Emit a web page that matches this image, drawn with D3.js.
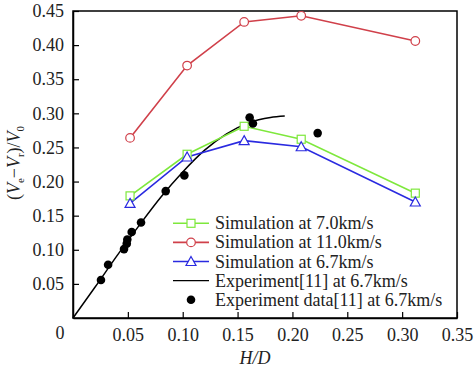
<!DOCTYPE html>
<html><head><meta charset="utf-8">
<script src="https://cdn.jsdelivr.net/npm/d3@7"></script>
<style>body{margin:0;background:#fff}svg{display:block}text{font-family:"Liberation Serif","Times New Roman",serif}</style>
</head><body><svg id="c" width="474" height="367"></svg>
<script>
const simX = [0.052, 0.104, 0.156, 0.208, 0.312];
const sim70 = [0.179, 0.240, 0.281, 0.262, 0.183];
const sim110 = [0.264, 0.370, 0.434, 0.443, 0.406];
const sim67 = [0.168, 0.236, 0.260, 0.251, 0.170];
const expCurveX = [0, 0.02, 0.04, 0.06, 0.08, 0.10, 0.12, 0.14, 0.16, 0.18, 0.193];
const expCurveY = [0, 0.045, 0.091, 0.135, 0.177, 0.214, 0.246, 0.270, 0.286, 0.294, 0.296];
const dataX = [0.0255, 0.032, 0.0465, 0.049, 0.0495, 0.0535, 0.062, 0.0845, 0.1015, 0.161, 0.164, 0.223];
const dataY = [0.0557, 0.078, 0.101, 0.109, 0.115, 0.126, 0.140, 0.186, 0.209, 0.294, 0.285, 0.271];
const xTicks = [0.05, 0.10, 0.15, 0.20, 0.25, 0.30, 0.35];
const yTicks = [0.05, 0.10, 0.15, 0.20, 0.25, 0.30, 0.35, 0.40, 0.45];
const legendLabels = ["Simulation at 7.0km/s", "Simulation at 11.0km/s", "Simulation at 6.7km/s", "Experiment[11] at 6.7km/s", "Experiment data[11] at 6.7km/s"];
const colors = {g: "#7ee83c", r: "#d0404a", b: "#2a2ae0", k: "#000"};

const svg = d3.select("#c");
const L = 73, R = 457, T = 11, B = 318;
const x = d3.scaleLinear().domain([0, 0.35]).range([L, R]);
const y = d3.scaleLinear().domain([0, 0.45]).range([B, T]);

svg.append("rect").attr("x", L).attr("y", T).attr("width", R - L).attr("height", B - T)
  .attr("fill", "none").attr("stroke", "#000").attr("stroke-width", 1.5);

const xa = svg.append("g").attr("transform", `translate(0,${B})`)
  .call(d3.axisBottom(x).tickValues(xTicks).tickSizeInner(-6).tickSizeOuter(0).tickPadding(10).tickFormat(d3.format(".2f")));
const ya = svg.append("g").attr("transform", `translate(${L},0)`)
  .call(d3.axisLeft(y).tickValues(yTicks).tickSizeInner(-6).tickSizeOuter(0).tickPadding(9).tickFormat(d3.format(".2f")));
[xa, ya].forEach(a => {
  a.select(".domain").attr("stroke", "#000").attr("stroke-width", 1.5);
  a.selectAll(".tick line").attr("stroke", "#000").attr("stroke-width", 1.2);
  a.selectAll(".tick text").attr("font-size", 18).attr("fill", "#222").style("font-family", '"Liberation Serif",serif');
});
svg.append("text").attr("x", 60).attr("y", 339).attr("text-anchor", "middle").attr("font-size", 18).attr("fill", "#222").text("0");

svg.append("text").attr("x", 255).attr("y", 364).attr("text-anchor", "middle").attr("font-size", 18)
  .attr("font-style", "italic").attr("fill", "#222").text("H/D");
const yt = svg.append("text").attr("transform", "translate(20,163) rotate(-90)").attr("text-anchor", "middle")
  .attr("font-size", 18).attr("fill", "#222");
yt.append("tspan").text("(");
yt.append("tspan").attr("font-style", "italic").text("V");
yt.append("tspan").attr("font-size", 11).attr("dy", 4).text("e");
yt.append("tspan").attr("dy", -4).text("−");
yt.append("tspan").attr("font-style", "italic").text("V");
yt.append("tspan").attr("font-size", 11).attr("dy", 4).text("r");
yt.append("tspan").attr("dy", -4).text(")/");
yt.append("tspan").attr("font-style", "italic").text("V");
yt.append("tspan").attr("font-size", 11).attr("dy", 4).text("0");

const curvePts = expCurveX.map((d, i) => [d, expCurveY[i]]);
svg.append("path").datum(curvePts).attr("fill", "none").attr("stroke", "#000").attr("stroke-width", 1.5)
  .attr("d", d3.line().x(d => x(d[0])).y(d => y(d[1])).curve(d3.curveMonotoneX));

const series = [
  {vals: sim70, c: colors.g, m: "square"},
  {vals: sim110, c: colors.r, m: "circle"},
  {vals: sim67, c: colors.b, m: "triangle"}
];
function marker(g, type, cx, cy, c) {
  if (type === "square") g.append("rect").attr("x", cx - 4).attr("y", cy - 4).attr("width", 8).attr("height", 8).attr("fill", "#fff").attr("stroke", c).attr("stroke-width", 1.2);
  else if (type === "circle") g.append("circle").attr("cx", cx).attr("cy", cy).attr("r", 4.3).attr("fill", "#fff").attr("stroke", c).attr("stroke-width", 1.2);
  else if (type === "triangle") g.append("path").attr("d", `M${cx},${cy - 5}L${cx + 5},${cy + 4}L${cx - 5},${cy + 4}Z`).attr("fill", "#fff").attr("stroke", c).attr("stroke-width", 1.2);
  else if (type === "dot") g.append("circle").attr("cx", cx).attr("cy", cy).attr("r", 4.3).attr("fill", "#000");
}
series.forEach(s => {
  const pts = simX.map((d, i) => [d, s.vals[i]]);
  svg.append("path").datum(pts).attr("fill", "none").attr("stroke", s.c).attr("stroke-width", 1.6)
    .attr("d", d3.line().x(d => x(d[0])).y(d => y(d[1])));
});
series.forEach(s => {
  const g = svg.append("g");
  simX.forEach((d, i) => marker(g, s.m, x(d), y(s.vals[i]), s.c));
});
const dg = svg.append("g");
dataX.forEach((d, i) => marker(dg, "dot", x(d), y(dataY[i])));

const lg = svg.append("g");
const types = ["square", "circle", "triangle", "line", "dot"];
const lcols = [colors.g, colors.r, colors.b, colors.k, colors.k];
legendLabels.forEach((t, i) => {
  const ly = 223.3 + i * 19.1;
  if (types[i] !== "dot") lg.append("line").attr("x1", 173).attr("x2", 209).attr("y1", ly).attr("y2", ly).attr("stroke", lcols[i]).attr("stroke-width", i === 3 ? 1.2 : 1.6);
  if (types[i] !== "line") marker(lg, types[i], 191, ly, lcols[i]);
  lg.append("text").attr("x", 215).attr("y", ly + 6).attr("font-size", 18).attr("fill", "#222").text(t);
});
</script></body></html>
